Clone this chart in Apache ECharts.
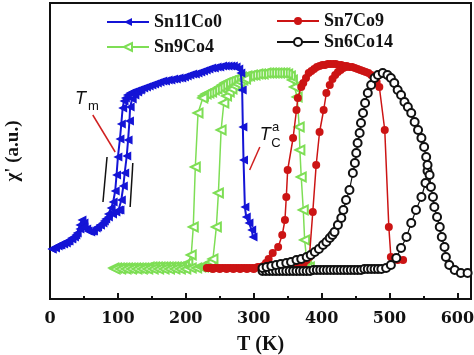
<!DOCTYPE html>
<html><head><meta charset="utf-8">
<script src="https://cdn.jsdelivr.net/npm/echarts@6/dist/echarts.min.js"></script>
<style>html,body{margin:0;padding:0;background:#fff}#c{width:474px;height:355px}</style>
</head><body><div id="c"></div>
<script>
// Temperature (K) vs chi' (arbitrary units)
const seriesNames = ['Sn11Co0', 'Sn9Co4', 'Sn7Co9', 'Sn6Co14'];

const sn11co0Cool = [[299,62],[297,69],[293,76],[289,82],[287,92],[285,139],[284,172],[283,209],[281,226],[278,230],[274,232],[270,233],[266,233],[262,233],[258,233],[254,233],[250,232],[246,232],[242,231],[238,231],[234,230],[230,229],[226,228],[222,227],[218,226],[214,225],[210,225],[206,224],[202,223],[198,222],[194,221],[190,221],[186,220],[182,220],[178,219],[174,219],[170,218],[166,218],[162,217],[158,216],[154,215],[150,214],[146,213],[142,212],[138,211],[134,210],[130,209],[126,208],[122,207],[118,206],[114,204],[111,201],[109,198],[107,191],[105,175],[103,160],[100,142],[98,124],[96,108],[93,97],[90,91],[86,85],[82,80],[78,76],[74,74],[70,72],[64,68],[60,67],[54,70],[50,76],[47,79],[44,74],[40,66],[36,62],[32,60],[28,58],[24,56],[20,55],[16,54],[12,53],[8,51],[3,50]];
const sn11co0Heat = [[3,50],[8,52],[14,54],[20,56],[26,58],[32,61],[38,64],[44,70],[50,72],[56,68],[62,68],[68,71],[74,74],[80,78],[86,82],[92,85],[97,87],[101,89],[103,89],[105,99],[108,113],[110,126],[113,143],[115,159],[117,178],[118,192],[121,200],[125,204],[129,207],[133,209]];

const sn9co4Cool = [[382,32],[378,39],[375,59],[373,89],[370,122],[368,149],[367,172],[364,202],[360,212],[357,219],[354,223],[350,225],[346,226],[342,226],[338,226],[334,226],[330,226],[326,226],[322,226],[318,226],[314,225],[310,225],[306,225],[302,224],[298,224],[294,223],[290,223],[286,222],[282,222],[278,221],[274,220],[270,219],[266,218],[262,217],[258,216],[254,214],[250,212],[246,210],[242,209],[238,207],[234,206],[230,205],[226,203],[225,201],[218,186],[214,132],[211,72],[208,44],[203,36],[198,33],[194,32],[190,32],[186,32],[182,32],[178,32],[174,32],[170,32],[166,32],[162,32],[158,32],[154,32],[150,32],[146,32],[142,31],[138,31],[134,31],[130,31],[126,31],[122,31],[118,31],[114,31],[110,31],[106,31],[102,31],[98,31],[94,31]];
const sn9co4Heat = [[96,30],[104,30],[112,30],[120,30],[128,30],[136,30],[144,30],[152,30],[160,30],[168,30],[176,30],[184,30],[192,30],[200,30],[208,31],[216,31],[222,32],[226,32],[230,32],[234,35],[237,37],[240,40],[245,72],[248,106],[252,169],[256,196],[260,203],[264,207],[268,210],[272,213],[276,215],[280,217],[284,219],[288,220]];

const sn7co9Cool = [[520,39],[512,39],[502,42],[499,72],[493,169],[485,212],[481,217],[477,221],[473,224],[469,226],[465,227],[461,228],[457,229],[453,230],[449,231],[445,232],[441,232],[437,233],[433,233],[429,234],[425,234],[421,235],[417,235],[413,235],[409,235],[405,234],[401,234],[397,233],[393,232],[389,230],[385,228],[381,226],[377,221],[373,216],[370,212],[365,201],[363,189],[358,161],[350,129],[348,102],[346,79],[342,64],[336,52],[328,46],[322,40],[318,36],[314,33],[310,32],[306,32],[302,31],[298,31],[294,31],[290,31],[286,31],[282,31],[278,31],[274,31],[270,31],[266,31],[262,31],[258,31],[254,31],[250,31],[246,31],[242,31],[238,31],[234,31],[231,31]];
const sn7co9Heat = [[240,30],[250,30],[260,30],[270,30],[280,30],[290,30],[300,30],[310,31],[320,31],[330,31],[340,32],[350,32],[360,33],[368,34],[374,36],[378,39],[382,42],[387,87],[392,134],[397,167],[403,189],[407,206],[412,214],[416,220],[420,224],[424,227],[428,229],[432,231],[436,232]];

const sn6co14Main = [[313,31],[319,32],[326,33],[333,34],[340,35],[348,36],[355,37],[363,39],[370,40],[378,42],[384,44],[390,47],[396,50],[402,54],[407,57],[412,61],[416,64],[419,67],[424,74],[429,81],[432,89],[436,99],[441,109],[446,126],[449,136],[451,146],[453,156],[456,166],[458,176],[461,186],[464,196],[468,206],[473,214],[478,221],[483,224],[490,226],[497,224],[502,221],[507,216],[512,209],[517,204],[522,197],[527,192],[532,186],[537,177],[542,169],[547,161],[551,152],[554,142],[556,134],[559,124],[561,112],[564,102],[566,92],[570,82],[574,72],[577,62],[581,52],[583,42],[588,34],[596,29],[605,26],[615,26]];
const sn6co14Low = [[313,28],[318,28],[323,28],[328,28],[333,28],[338,28],[343,28],[348,28],[353,28],[358,28],[363,28],[368,28],[373,28],[378,28],[383,28],[388,29],[393,29],[398,29],[403,29],[408,29],[413,29],[418,29],[423,29],[428,29],[433,29],[438,29],[443,29],[448,29],[453,29],[458,29],[463,30],[468,30],[473,30],[478,30],[483,30],[488,30],[495,31],[502,34],[510,41],[517,51],[525,62],[532,76],[539,89],[547,102],[553,116],[556,128]];

const blue = '#1414d6', green = '#7ede55', red = '#cc1414', black = '#111111';
const serifBold = {fontFamily: 'Liberation Serif', fontWeight: 'bold', color: '#111'};

function line(name, data, color, symbol, size, rotate, lw, z) {
  return {
    type: 'line', name: name, data: data, z: z,
    symbol: symbol, symbolSize: size, symbolRotate: rotate,
    showAllSymbol: true, silent: true, animation: false,
    lineStyle: {color: color, width: lw},
    itemStyle: {color: color, borderWidth: symbol.indexOf('empty') === 0 ? 1 : 0}
  };
}

const chart = echarts.init(document.getElementById('c'), null, {renderer: 'canvas'});
const legendCommon = {
  orient: 'vertical', itemWidth: 42, itemHeight: 10, itemGap: 7, padding: 0,
  textStyle: Object.assign({fontSize: 18}, serifBold), selectedMode: false
};
chart.setOption({
  animation: false,
  backgroundColor: '#fff',
  grid: {left: 50, right: 3, top: 3, bottom: 56, containLabel: false, outerBoundsMode: 'none', show: true, borderColor: '#111', borderWidth: 2, backgroundColor: 'transparent'},
  xAxis: {
    type: 'value', min: 0, max: 620, interval: 100,
    name: 'T (K)', nameLocation: 'middle', nameGap: 36,
    nameTextStyle: Object.assign({fontSize: 20}, serifBold),
    axisLine: {show: true, onZero: false, lineStyle: {color: '#111', width: 2}},
    axisTick: {show: true, inside: true, length: 6, lineStyle: {color: '#111', width: 2}},
    minorTick: {show: true, splitNumber: 2, length: 3, lineStyle: {color: '#111', width: 2}},
    splitLine: {show: false},
    axisLabel: {showMaxLabel: false, margin: 12, fontFamily: 'DejaVu Serif', fontWeight: 'bold', fontSize: 16, color: '#111'}
  },
  yAxis: {
    type: 'value', min: 0, max: 296,
    name: "\u03C7' (a.u.)", nameLocation: 'middle', nameGap: 27, nameRotate: 90,
    nameTextStyle: Object.assign({fontSize: 19}, serifBold),
    axisLine: {show: true, lineStyle: {color: '#111', width: 2}},
    axisTick: {show: false}, axisLabel: {show: false}, splitLine: {show: false}
  },
  legend: [
    Object.assign({}, legendCommon, {data: ['Sn11Co0', 'Sn9Co4'], left: 106, top: 13, itemGap: 7}),
    Object.assign({}, legendCommon, {data: ['Sn7Co9', 'Sn6Co14'], left: 276, top: 12, itemGap: 3})
  ],
  series: [
    line('Sn9Co4', sn9co4Cool, green, 'emptyTriangle', 9, 90, 1.5, 2),
    line('Sn9Co4', sn9co4Heat, green, 'emptyTriangle', 9, 90, 1.5, 2),
    line('Sn11Co0', sn11co0Cool, blue, 'triangle', 9, 90, 2, 3),
    line('Sn11Co0', sn11co0Heat, blue, 'triangle', 9, 90, 2, 3),
    line('Sn7Co9', sn7co9Cool, red, 'circle', 8, 0, 1.5, 4),
    line('Sn7Co9', sn7co9Heat, red, 'circle', 8, 0, 1.5, 4),
    line('Sn6Co14', sn6co14Low, black, 'emptyCircle', 8, 0, 1.2, 5),
    line('Sn6Co14', sn6co14Main, black, 'emptyCircle', 8, 0, 1.2, 6),
    {
      type: 'line', data: [], silent: true, z: 10,
      markLine: {
        silent: true, animation: false, symbolSize: [0, 9], label: {show: false},
        data: [
          [{coord: [63, 184], symbol: 'none', lineStyle: {color: '#d02020', width: 1.5, type: 'solid'}}, {coord: [96, 147], symbol: 'arrow'}],
          [{coord: [84, 142], symbol: 'none', lineStyle: {color: '#111', width: 1.5, type: 'solid'}}, {coord: [78, 97], symbol: 'arrow'}],
          [{coord: [118, 92], symbol: 'none', lineStyle: {color: '#111', width: 1.5, type: 'solid'}}, {coord: [122, 136], symbol: 'arrow'}],
          [{coord: [309, 152], symbol: 'none', lineStyle: {color: '#d02020', width: 1.5, type: 'solid'}}, {coord: [294, 129], symbol: 'arrow'}]
        ]
      }
    }
  ]
});

function px(t, v) { return chart.convertToPixel({gridIndex: 0}, [t, v]); }
const sans = 'Liberation Sans';
const pTm = px(37, 200), pm = px(56, 193);
const pTc = px(309, 164), pa = px(327, 172), pc = px(326, 156);
chart.setOption({
  graphic: [
    {type: 'text', x: pTm[0], y: pTm[1], style: {text: 'T', font: 'italic 18px ' + sans, fill: '#111', textAlign: 'left', textVerticalAlign: 'middle'}},
    {type: 'text', x: pm[0], y: pm[1], style: {text: 'm', font: '13px ' + sans, fill: '#111', textAlign: 'left', textVerticalAlign: 'middle'}},
    {type: 'text', x: pTc[0], y: pTc[1], style: {text: 'T', font: 'italic 18px ' + sans, fill: '#111', textAlign: 'left', textVerticalAlign: 'middle'}},
    {type: 'text', x: pa[0], y: pa[1], style: {text: 'a', font: '13px ' + sans, fill: '#111', textAlign: 'left', textVerticalAlign: 'middle'}},
    {type: 'text', x: pc[0], y: pc[1], style: {text: 'C', font: '13px ' + sans, fill: '#111', textAlign: 'left', textVerticalAlign: 'middle'}}
  ]
});
</script>
</body></html>
